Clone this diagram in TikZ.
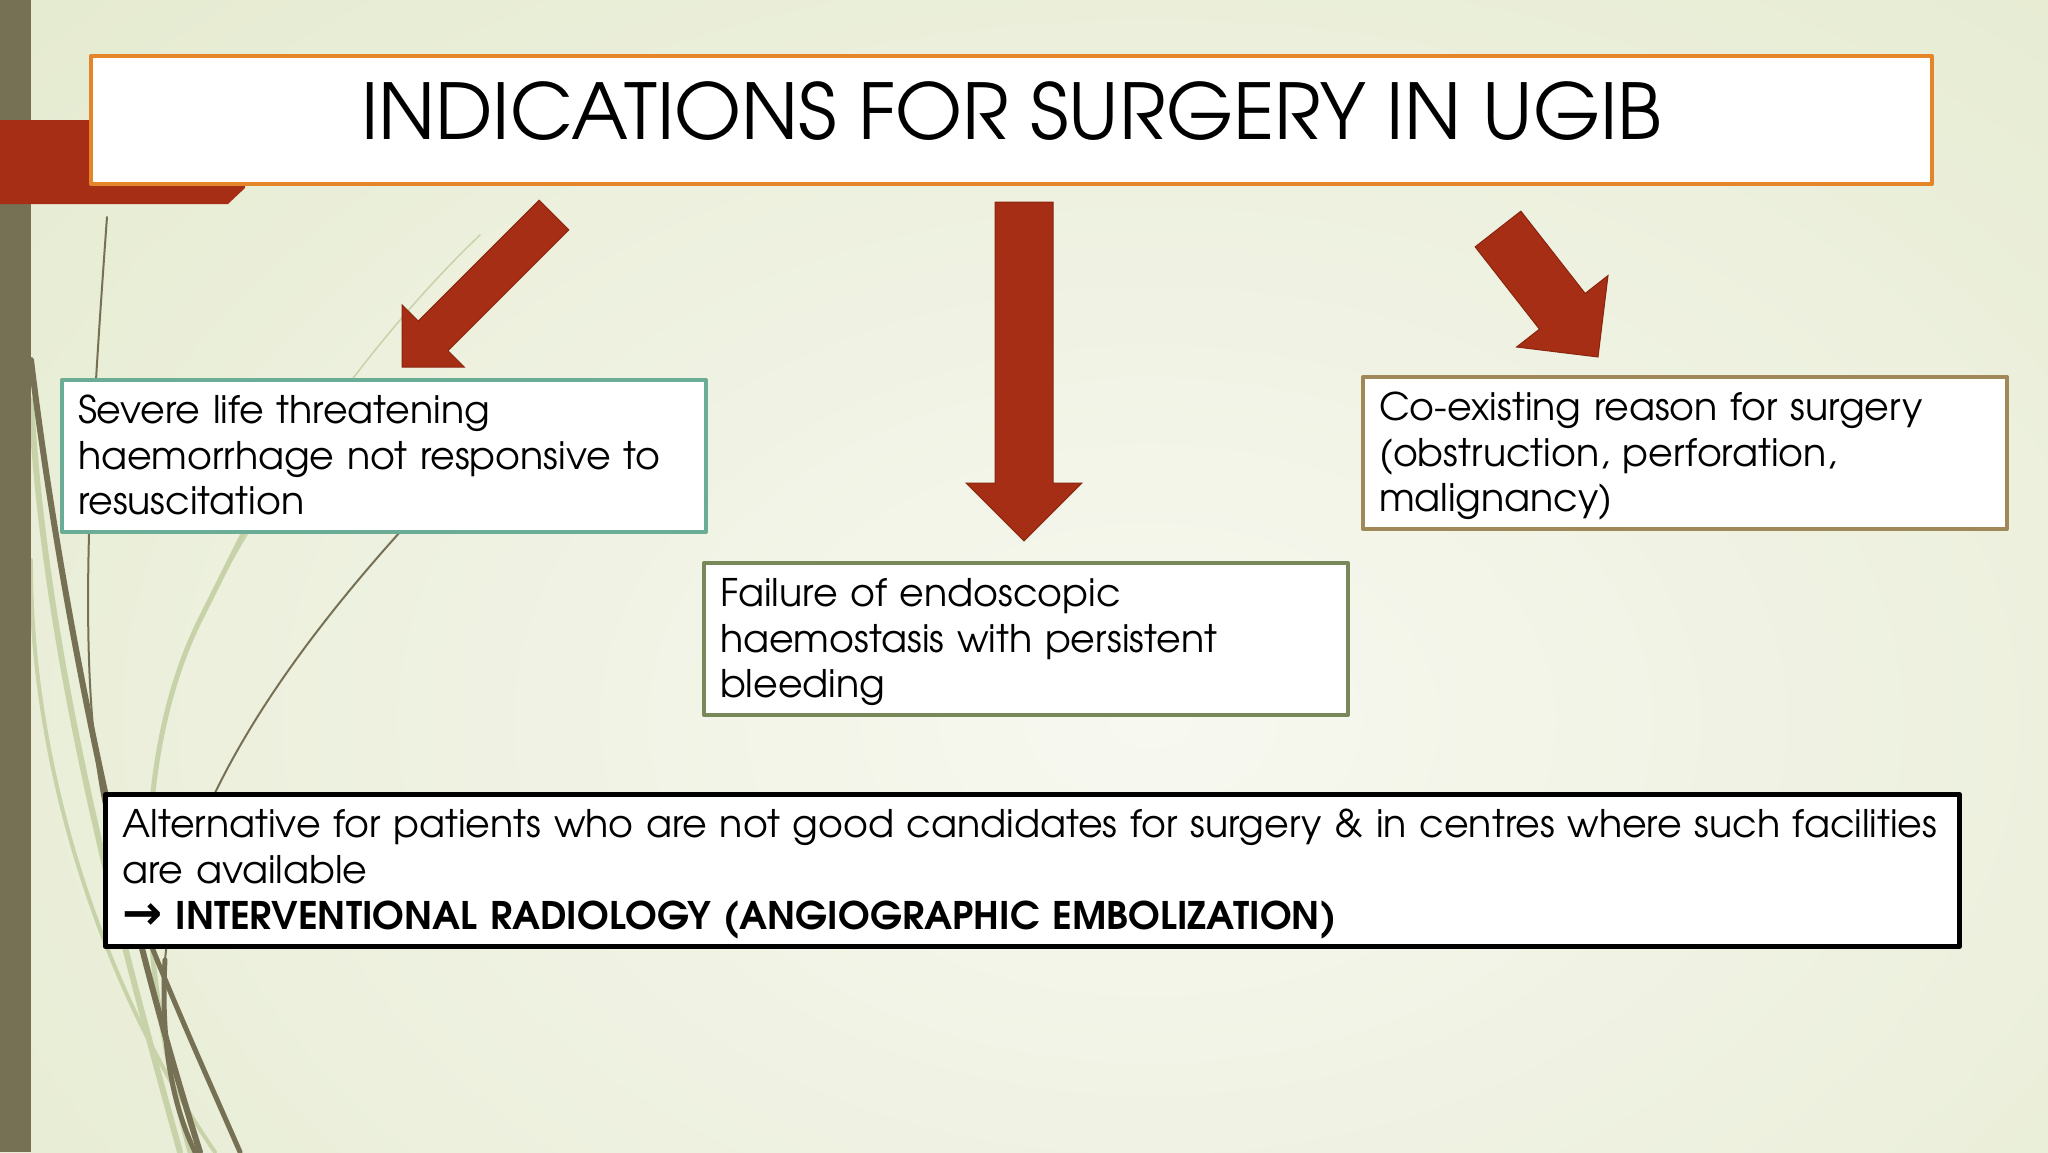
\documentclass[tikz,border=0pt]{standalone}
\usepackage{fontspec}
\setmainfont{texgyreadventor}[Extension=.otf, UprightFont=*-regular, BoldFont=*-bold]
\newfontfamily\arrowfont{DejaVu Sans}
\usetikzlibrary{calc}

\definecolor{wispdark}{RGB}{118,113,84}
\definecolor{wisplight}{RGB}{200,210,168}
\definecolor{slidered}{RGB}{165,46,20}
\definecolor{arrowedge}{RGB}{138,37,15}
\definecolor{titleorange}{RGB}{228,133,42}
\definecolor{tealline}{RGB}{106,172,150}
\definecolor{oliveline}{RGB}{120,136,88}
\definecolor{tanline}{RGB}{160,136,88}
\definecolor{bgedge}{RGB}{221,229,194}
\definecolor{bgmid}{RGB}{247,248,240}

\tikzset{
  titlebox/.style={draw=titleorange, fill=white, line width=4pt,
    minimum width=1841pt, minimum height=128pt, inner sep=0pt,
    text height=60pt, text depth=22pt, font=\fontsize{77}{90}\selectfont},
  slidebox/.style={draw, fill=white, line width=4pt, anchor=north west,
    minimum width=644pt, minimum height=152pt, text width=612pt,
    inner xsep=16pt, inner ysep=0pt, align=left,
    font=\fontsize{38}{45.7}\selectfont,
    execute at begin node=\rule{0pt}{36pt},
    execute at end node=\rule[-9.7pt]{0pt}{10pt}},
  fatarrow/.style={fill=slidered, draw=arrowedge, line width=1pt, line join=miter},
  wisp/.style={wispdark, line width=#1},
  pale/.style={wisplight, line width=#1}
}

% tail, tip, shaft half width, head half width, head length
\newcommand{\fatarrow}[5]{%
  \coordinate (#2-base) at ($(#2)!#5!(#1)$);
  \filldraw[fatarrow] ($(#1)!#3!90:(#2)$) -- ($(#2-base)!#3!90:(#2)$)
    -- ($(#2-base)!#4!90:(#2)$) -- (#2) -- ($(#2-base)!#4!-90:(#2)$)
    -- ($(#2-base)!#3!-90:(#2)$) -- ($(#1)!#3!-90:(#2)$) -- cycle;
}

\begin{document}
\begin{tikzpicture}[x=1pt, y=-1pt, line cap=round, line join=round]
  \useasboundingbox (0,0) rectangle (2048,1152);

  % background
  \fill[bgedge] (0,0) rectangle (2048,1152);
  \begin{scope}
    \clip (0,0) rectangle (2048,1152);
    \shade[inner color=bgmid, outer color=bgedge] (1150,720) ellipse [x radius=2200pt, y radius=1500pt];
  \end{scope}

  % wisps on the left
  \draw[pale=6pt] (31,400) .. controls (45,650) and (110,900) .. (180,1152);
  \draw[pale=4pt] (31,560) .. controls (30,780) and (110,1000) .. (215,1152);
  \draw[pale=1.5pt] (480,235) .. controls (380,330) and (270,480) .. (200,620);
  \draw[pale=5pt] (250,520) .. controls (230,560) and (215,590) .. (200,620)
    .. controls (150,720) and (120,900) .. (190,1152);
  \draw[wisp=2pt] (107,217) .. controls (88,480) and (75,700) .. (110,830);
  \draw[wisp=5pt] (110,830) .. controls (140,930) and (200,1060) .. (240,1152);
  \draw[wisp=6pt] (31,360) .. controls (60,600) and (120,900) .. (200,1152);
  \draw[wisp=2pt] (420,510) .. controls (300,640) and (180,800) .. (165,960);
  \draw[wisp=5pt] (165,960) .. controls (160,1050) and (175,1110) .. (195,1152);

  \fill[wispdark] (0,0) rectangle (31,1152);
  \fill[slidered] (0,120) -- (245,120) -- (245,188) -- (228,204) -- (0,204) -- cycle;

  \node[titlebox] (title) at (1011.5,120) {INDICATIONS FOR SURGERY IN UGIB};

  \node[slidebox, draw=tealline] (severe) at (60,378)
    {Severe life threatening\\haemorrhage not responsive to\\resuscitation};
  \node[slidebox, draw=oliveline] (failure) at (702,561)
    {Failure of endoscopic\\haemostasis with persistent\\bleeding};
  \node[slidebox, draw=tanline] (coexist) at (1361,375)
    {Co-existing reason for surgery\\(obstruction, perforation,\\malignancy)};
  \node[slidebox, draw=black, line width=5pt, minimum width=1854pt, text width=1820pt,
    inner xsep=17pt] (alternative) at (103,792)
    {Alternative for patients who are not good candidates for surgery \& in centres where such facilities\\
     are available\\
     {\arrowfont\bfseries\fontsize{48}{45.7}\selectfont →} \textbf{INTERVENTIONAL RADIOLOGY (ANGIOGRAPHIC EMBOLIZATION)}};

  % arrows from the title to the boxes
  \coordinate (t1) at (554,215);
  \coordinate (p1) at (402,367);
  \coordinate (t2) at (1024,202);
  \coordinate (p2) at (1024,541);
  \coordinate (t3) at (1498,229);
  \coordinate (p3) at (1598,357);
  \fatarrow{t1}{p1}{21pt}{44pt}{44pt}
  \fatarrow{t2}{p2}{29pt}{58pt}{58pt}
  \fatarrow{t3}{p3}{29pt}{58pt}{58pt}
\end{tikzpicture}
\end{document}
